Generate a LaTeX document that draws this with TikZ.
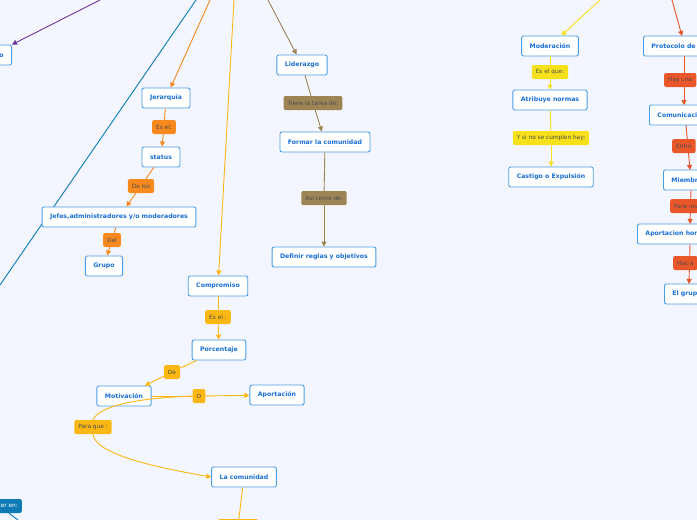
\documentclass[tikz,border=0pt]{standalone}
\usepackage{fontspec}
\setmainfont{DejaVu Sans}
\usetikzlibrary{arrows.meta}
\definecolor{bg}{HTML}{F3F6FE}
\definecolor{nb}{HTML}{4A9EE8}
\definecolor{nt}{HTML}{1A6FD6}
\definecolor{cor}{HTML}{F7891F}
\definecolor{cyo}{HTML}{FBB814}
\definecolor{cbr}{HTML}{9C8455}
\definecolor{cye}{HTML}{F7E11B}
\definecolor{cre}{HTML}{E9562A}
\definecolor{cbl}{HTML}{0E7AB5}
\definecolor{cpu}{HTML}{6B3597}
\begin{document}
\begin{tikzpicture}[x=1pt,y=-1pt,
 box/.style={draw=nb,line width=0.9pt,fill=white,rounded corners=2pt,text=nt,font=\fontsize{6.2}{7}\selectfont\bfseries,minimum height=20pt,inner xsep=8pt},
 lab/.style={rounded corners=2pt,text=black!70,font=\fontsize{5.8}{7}\selectfont,minimum height=14pt,inner xsep=4pt},
 con/.style={line width=0.9pt,-{Triangle[length=5pt,width=5pt]}},
 ln/.style={line width=0.9pt}]
\fill[bg] (0,0) rectangle (697,520);
\useasboundingbox (0,0) rectangle (697,520);
\coordinate (t1) at (100,0); \coordinate (t2) at (196,0); \coordinate (t3) at (210,0);
\coordinate (t4) at (234,0); \coordinate (t5) at (268,0); \coordinate (t6) at (600,0); \coordinate (t7) at (672,0);
\coordinate (b1) at (0,285);
\node[box,anchor=east] (lo) at (12,55) {Protocolo};
\draw[con,cpu] (t1) -- (lo.north east);
\draw[ln,cbl] (t2) -- (b1);
% orange
\node[box] (jer) at (166,98) {Jerarquía};
\node[box] (sta) at (161,157) {status};
\node[box] (jef) at (119,217) {Jefes,administradores y/o moderadores};
\node[box] (gru) at (104,266) {Grupo};
\node[lab,fill=cor] (l1) at (164,127) {Es el:};
\node[lab,fill=cor] (l2) at (141,186) {De los};
\node[lab,fill=cor] (l3) at (112,240) {Del};
\draw[con,cor] (t3) -- (jer);
\draw[ln,cor] (jer) -- (l1); \draw[con,cor] (l1) -- (sta);
\draw[ln,cor] (sta) -- (l2); \draw[con,cor] (l2) -- (jef);
\draw[ln,cor] (jef) -- (l3); \draw[con,cor] (l3) -- (gru);
% brown
\node[box] (lid) at (302,65) {Liderazgo};
\node[box] (for) at (325,142) {Formar la comunidad};
\node[box] (def) at (324,257) {Definir reglas y objetivos};
\node[lab,fill=cbr] (l4) at (313,103) {Tiene la tarea de:};
\node[lab,fill=cbr] (l5) at (324,198) {Así como de:};
\draw[con,cbr] (t5) -- (lid);
\draw[ln,cbr] (lid) -- (l4); \draw[con,cbr] (l4) -- (for);
\draw[ln,cbr] (for) -- (l5); \draw[con,cbr] (l5) -- (def);
% yellow-orange
\node[box] (com) at (218,286) {Compromiso};
\node[box] (por) at (219,350) {Porcentaje};
\node[box] (mot) at (124,396) {Motivación};
\node[box] (apo) at (277,395) {Aportación};
\node[box] (lac) at (244,477) {La comunidad};
\node[lab,fill=cyo] (l6) at (218,317) {Es el :};
\node[lab,fill=cyo] (l7) at (172,372) {De};
\node[lab,fill=cyo] (l8) at (199,396) {O};
\node[lab,fill=cyo] (l9) at (93,427) {Para que :};
\node[lab,fill=cyo,minimum width=40pt] (l10) at (238,526) {};
\draw[con,cyo] (t4) -- (com);
\draw[ln,cyo] (com) -- (l6); \draw[con,cyo] (l6) -- (por);
\draw[ln,cyo] (por) -- (l7); \draw[con,cyo] (l7) -- (mot);
\draw[ln,cyo] (mot) -- (l8); \draw[con,cyo] (l8) -- (apo);
\draw[ln,cyo] (l8.west) .. controls (140,398) and (100,405) .. (l9.north);
\draw[con,cyo] (l9.south) .. controls (95,455) and (160,468) .. (lac.west);
\draw[ln,cyo] (lac) -- (l10);
% blue label
\node[lab,fill=cbl,text=white,anchor=east] (l11) at (22,506) {Aparecer en:};
\coordinate (b2) at (18,520);
\draw[ln,cbl] (l11) -- (b2);
% yellow
\node[box] (mod) at (550,46) {Moderación};
\node[box] (atr) at (550,100) {Atribuye normas};
\node[box] (cas) at (551,177) {Castigo o Expulsión};
\node[lab,fill=cye] (l12) at (550,72) {Es el que:};
\node[lab,fill=cye] (l13) at (551,138) {Y si no se cumplen hay:};
\draw[con,cye] (t6) -- (mod);
\draw[ln,cye] (mod) -- (l12); \draw[con,cye] (l12) -- (atr);
\draw[ln,cye] (atr) -- (l13); \draw[con,cye] (l13) -- (cas);
% red
\node[box,anchor=west] (pro) at (643,46) {Protocolo de comunicación};
\node[box,anchor=west] (cmu) at (649,115) {Comunicación};
\node[box,anchor=west] (mie) at (663,180) {Miembros};
\node[box,anchor=west] (aph) at (637,234) {Aportacion honesta};
\node[box,anchor=west] (elg) at (664,294) {El grupo};
\node[lab,fill=cre,anchor=west] (l14) at (664,80) {Hay una};
\node[lab,fill=cre,anchor=west] (l15) at (672,146) {Entre};
\node[lab,fill=cre,anchor=west] (l16) at (670,206) {Para una};
\node[lab,fill=cre,anchor=west] (l17) at (673,263) {Hacia};
\coordinate (r1) at (684,56); \coordinate (r2) at (684,105);
\coordinate (r3) at (686,125); \coordinate (r4) at (690,170);
\coordinate (r5) at (691,190); \coordinate (r6) at (690,224);
\coordinate (r7) at (690,244); \coordinate (r8) at (689,284);
\draw[con,cre] (t7) -- (682,36);
\draw[con,cre] (r1) -- (r2);
\draw[con,cre] (r3) -- (r4);
\draw[con,cre] (r5) -- (r6);
\draw[con,cre] (r7) -- (r8);
\end{tikzpicture}
\end{document}
